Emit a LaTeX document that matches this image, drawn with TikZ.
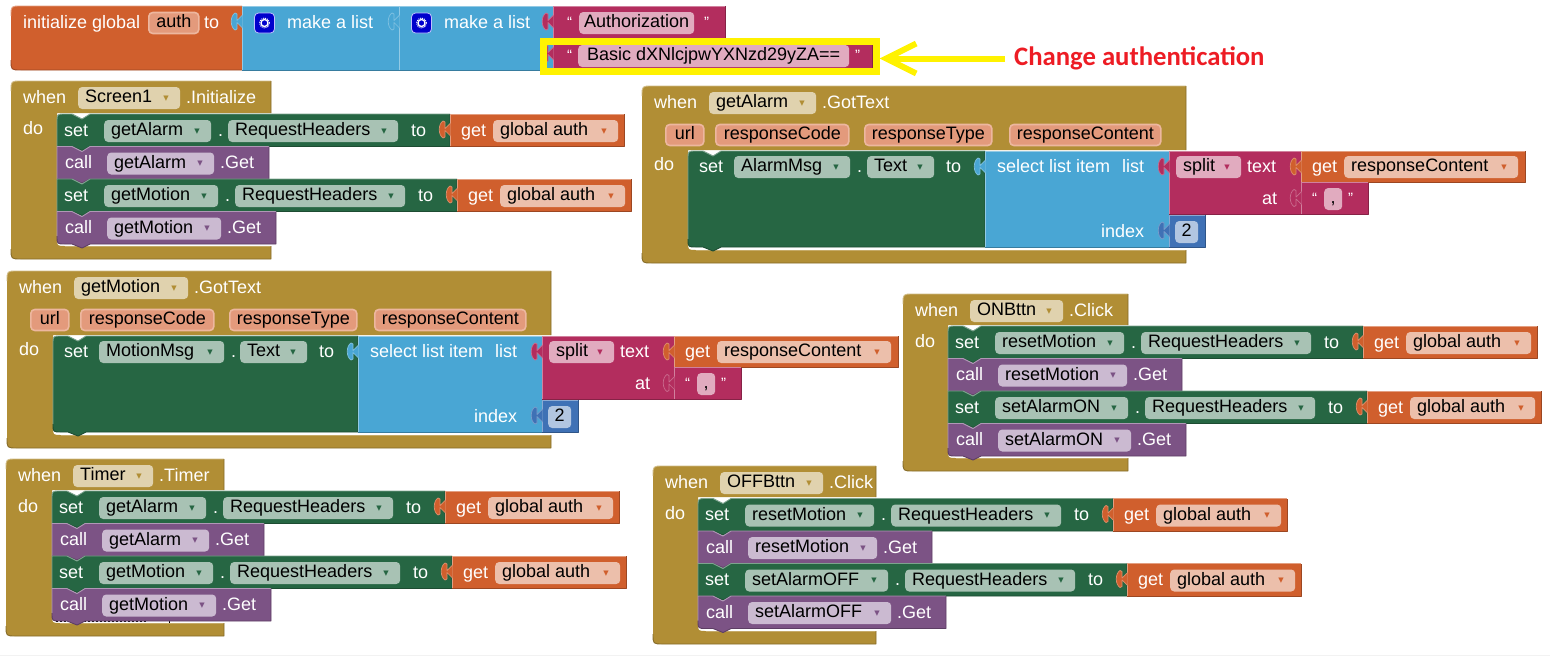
\documentclass[tikz,border=0pt]{standalone}
\usepackage{fontspec}
\setmainfont{Liberation Sans}
\newfontfamily\trifont{DejaVu Sans}
\newfontfamily\capfont{Carlito}
\usepackage{xcolor}
\usepackage{tikz}
\usetikzlibrary{arrows.meta,positioning,calc}

\definecolor{orn}{HTML}{D05F2D}
\definecolor{lst}{HTML}{49A6D4}
\definecolor{pnk}{HTML}{B32D5E}
\definecolor{grn}{HTML}{266643}
\definecolor{pur}{HTML}{7C5385}
\definecolor{ctl}{HTML}{B18E35}
\definecolor{num}{HTML}{3F71B5}
\definecolor{ornc}{HTML}{ECBFAB}
\definecolor{pnkc}{HTML}{E1ABBF}
\definecolor{grnc}{HTML}{A8C2B4}
\definecolor{purc}{HTML}{CBBAD1}
\definecolor{ctlc}{HTML}{E0D2AE}
\definecolor{numc}{HTML}{B2C6E1}
\definecolor{parc}{HTML}{E39A7C}
\definecolor{parl}{HTML}{EDB79F}
\definecolor{capred}{HTML}{ED1C24}

% Text pieces
\newcommand{\lab}[4]{\node[lbl] (#1) at (#2,#3) {#4};}
\newcommand{\ddchip}[7]{\node[chip, fill=#6] (#1) at (#2,#3) {\makebox[\dimexpr#4pt-14pt\relax][l]{#5\hfill\raisebox{2.5pt}{\textcolor{#7}{\trifont\fontsize{7}{7}\selectfont ▼}}\hspace{4.5pt}}};}
\newcommand{\parchip}[4]{\node[parm, minimum width=#3] (#1) at (#2) {#4};}

% Block pieces
\newcommand{\blk}[5]{%
    \fill[#5] (#1,#2) rectangle (#3,#4);
    \draw[#5!60!white, line width=.9] (#1,#4) -- (#1,#2) -- (#3,#2);
    \draw[#5!75!black, line width=.9] (#1,#4) -- (#3,#4) -- (#3,#2);
}
\newcommand{\vtab}[3]{%
    \filldraw[fill=#3, draw=#3!70!white, line width=.7] ({#1+.5},{#2+9}) -- ({#1-5},{#2+14.5}) -- ({#1-5},{#2+8}) -- ({#1-7},{#2+7})
        .. controls ({#1-12},{#2+10}) and ({#1-12},{#2+21}) .. ({#1-7},{#2+24}) -- ({#1-5},{#2+23}) -- ({#1-5},{#2+16.5}) -- ({#1+.5},{#2+22});
}
\newcommand{\stmt}[7]{%
    \fill[#5] (#3,#2) -- ({#1+33},#2) -- ({#1+25},{#2+5}) -- ({#1+15},#2) -- ({#1+#6},#2) .. controls (#1,#2) .. (#1,{#2+#6})
        -- (#1,{#4-#7}) .. controls (#1,#4) .. ({#1+#7},#4) -- ({#1+15},#4) -- ({#1+25},{#4+4}) -- ({#1+33},#4) -- (#3,#4) -- cycle;
    \draw[#5!60!white, line width=.9] (#3,#2) -- ({#1+33},#2) -- ({#1+25},{#2+5}) -- ({#1+15},#2) -- ({#1+#6},#2) .. controls (#1,#2) .. (#1,{#2+#6}) -- (#1,{#4-#7});
    \draw[#5!75!black, line width=.9] (#1,{#4-#7}) .. controls (#1,#4) .. ({#1+#7},#4) -- ({#1+15},#4) -- ({#1+25},{#4+4}) -- ({#1+33},#4) -- (#3,#4) -- (#3,#2);
}
% x, y, right end of head, bottom of head, inner x, top and bottom of the foot
\newcommand{\handler}[7]{%
    \fill[ctl] ({#1+10},#2) -- (#3,#2) -- (#3,#4) -- (#5,#4) -- (#5,{#6-8}) .. controls (#5,#6) .. ({#5+8},#6) -- (#3,#6) -- (#3,#7)
        -- ({#1+10},#7) .. controls (#1,#7) .. (#1,{#7-10}) -- (#1,{#2+10}) .. controls (#1,#2) .. ({#1+10},#2) -- cycle;
    \draw[ctl!60!white, line width=.9] (#3,#2) -- ({#1+10},#2) .. controls (#1,#2) .. (#1,{#2+10});
    \draw[ctl!75!white, line width=.9] (#3,#6) -- ({#5+8},#6);
    \draw[ctl!75!black, line width=.9] (#3,#2) -- (#3,#4) (#3,#6) -- (#3,#7) -- ({#1+10},#7) .. controls (#1,#7) .. (#1,{#7-10});
}
% prefix, x, y, event chip text and width, event name
\newcommand{\whenhead}[6]{%
    \pgfmathsetmacro\hy{#3+16}
    \pgfmathsetmacro\hx{#2+67}
    \pgfmathsetmacro\hz{#2+67+#5+6}
    \lab{#1when}{{#2+12}}{\hy}{when}
    \ddchip{#1ev}{\hx}{\hy}{#5}{#4}{ctlc}{ctl}
    \lab{#1tail}{\hz}{\hy}{#6}
}
% prefix, x, y, top rounding, component, width
\newcommand{\setrow}[6]{%
    \pgfmathsetmacro\sy{#3+16}
    \pgfmathsetmacro\sa{#2+47}
    \pgfmathsetmacro\sb{#2+47+#6+17}
    \pgfmathsetmacro\sg{\sb+170+52}
    \pgfmathsetmacro\se{\sg+174}
    \stmt{#2}{#3}{\sg}{#3+32.5}{grn}{#4}{0}
    \blk{\sg}{#3}{\se}{#3+32.5}{orn}
    \vtab{\sg}{#3}{orn}
    \lab{#1set}{{#2+7}}{\sy}{set}
    \ddchip{#1comp}{\sa}{\sy}{#6}{#5}{grnc}{grn}
    \lab{#1dot}{{\sb-10}}{\sy}{.}
    \ddchip{#1prop}{\sb}{\sy}{170}{RequestHeaders}{grnc}{grn}
    \lab{#1to}{{\sb+170+13}}{\sy}{to}
    \lab{#1get}{{\sg+11}}{\sy}{get}
    \ddchip{#1var}{{\sg+43}}{\sy}{125}{global auth}{ornc}{orn}
}
% prefix, x, y, bottom rounding, component, width
\newcommand{\callrow}[6]{%
    \pgfmathsetmacro\cy{#3+16}
    \pgfmathsetmacro\ca{#2+50}
    \pgfmathsetmacro\cb{#2+50+#6+6}
    \stmt{#2}{#3}{#2+#6+105}{#3+32.5}{pur}{0}{#4}
    \lab{#1call}{{#2+8}}{\cy}{call}
    \ddchip{#1comp}{\ca}{\cy}{#6}{#5}{purc}{pur}
    \lab{#1dot}{\cb}{\cy}{.Get}
}
% prefix, x, y, first component and width, second component and width
\newcommand{\stack}[7]{%
    \setrow{#1a}{#2}{#3}{8}{#4}{#5}
    \callrow{#1b}{#2}{#3+32.5}{0}{#4}{#5}
    \setrow{#1c}{#2}{#3+65}{0}{#6}{#7}
    \callrow{#1d}{#2}{#3+97.5}{8}{#6}{#7}
}
% prefix, x, y, component, width, label, width, shift
\newcommand{\gottext}[8]{%
    \pgfmathsetmacro\gy{#3+65}
    \pgfmathsetmacro\gr{\gy+15}
    \pgfmathsetmacro\gs{\gy+47}
    \pgfmathsetmacro\gt{\gy+80}
    \pgfmathsetmacro\gp{#3+48}
    \pgfmathsetmacro\gb{#2+343+#8}
    \pgfmathsetmacro\gc{#2+527+#8}
    \pgfmathsetmacro\gd{#2+659+#8}
    \handler{#2}{#3}{#2+544}{#3+64}{#2+46}{#3+164}{#3+177}
    \whenhead{#1}{#2}{#3}{#4}{#5}{.GotText}
    \parchip{#1url}{{#2+23},\gp}{38}{url}
    \parchip{#1code}{{#2+73},\gp}{133}{responseCode}
    \parchip{#1type}{{#2+222},\gp}{127}{responseType}
    \parchip{#1cont}{{#2+367},\gp}{151}{responseContent}
    \lab{#1do}{{#2+12}}{\gr-2}{do}
    \stmt{#2+46}{\gy}{\gb}{\gy+96}{grn}{8}{8}
    \blk{\gb}{\gy}{\gc}{\gy+96}{lst}
    \vtab{\gb}{\gy}{lst}
    \blk{\gc}{\gy}{\gd}{\gy+63}{pnk}
    \vtab{\gc}{\gy}{pnk}
    \blk{\gc}{\gy+64}{\gc+36}{\gy+96}{num}
    \vtab{\gc}{\gy+64}{num}
    \blk{\gd}{\gy}{\gd+224}{\gy+31.5}{orn}
    \vtab{\gd}{\gy}{orn}
    \blk{\gd}{\gy+31.5}{\gd+67}{\gy+63}{pnk}
    \vtab{\gd}{\gy+31.5}{pnk}
    \lab{#1set}{{#2+57}}{\gr}{set}
    \ddchip{#1comp}{{#2+92}}{\gr}{#7}{#6}{grnc}{grn}
    \lab{#1dot}{{#2+92+#7+7}}{\gr}{.}
    \ddchip{#1prop}{{#2+225+#8}}{\gr}{67}{Text}{grnc}{grn}
    \lab{#1to}{{#2+304+#8}}{\gr}{to}
    \lab{#1sel}{{\gb+12}}{\gr}{select list item}
    \lab{#1list}{{\gb+137}}{\gr}{list}
    \ddchip{#1split}{{\gc+7}}{\gr}{65}{split}{pnkc}{pnk}
    \lab{#1text}{{\gc+78}}{\gr}{text}
    \lab{#1get}{{\gd+11}}{\gr}{get}
    \ddchip{#1var}{{\gd+43}}{\gr}{174}{responseContent}{ornc}{orn}
    \lab{#1at}{{\gc+93}}{\gs}{at}
    \node[qmark] (#1ql) at ({\gd+11},\gs) {“};
    \node[chipc, fill=pnkc, minimum width=18] (#1comma) at ({\gd+23},\gs) {,};
    \node[qmark] (#1qr) at ({\gd+47},\gs) {”};
    \lab{#1index}{{\gb+116}}{\gt}{index}
    \node[chipc, fill=numc, minimum width=23] (#1two) at ({\gc+6},\gt) {2};
}

\begin{document}
\begin{tikzpicture}[x=1pt, y=-1pt, line join=round]
    \tikzstyle{lbl} = [anchor=west, yshift=-1.5pt, inner sep=0pt, text=white, text height=13pt, text depth=4pt, font=\fontsize{18}{20}\selectfont]
    \tikzstyle{chip} = [anchor=west, yshift=-1pt, inner xsep=7pt, inner ysep=2.5pt, text=black, text height=13pt, text depth=4pt, rounded corners=4pt, font=\fontsize{18}{20}\selectfont]
    \tikzstyle{chipc} = [chip, inner xsep=0pt, align=center]
    \tikzstyle{parm} = [chipc, fill=parc, draw=parl, line width=1.6pt, inner ysep=2pt]
    \tikzstyle{qmark} = [anchor=west, inner sep=0pt, text=white, font=\fontsize{15}{15}\selectfont]
    \tikzstyle{gearbox} = [minimum size=20pt, inner sep=0pt, fill=blue!80!black, draw=white!75!blue, line width=.8pt, rounded corners=4pt]
    \useasboundingbox (0,0) rectangle (1550,656);
    \fill[black!5] (0,655) rectangle (1550,656);

    % Global variable
    \fill[orn] (21,6) -- (242,6) -- (242,70) -- (21,70) .. controls (11,70) .. (11,60) -- (11,16) .. controls (11,6) .. (21,6) -- cycle;
    \draw[orn!60!white, line width=.9] (242,6) -- (21,6) .. controls (11,6) .. (11,16);
    \draw[orn!75!black, line width=.9] (11,60) .. controls (11,70) .. (21,70) -- (242,70);
    \blk{242}{6}{399}{70.5}{lst}
    \vtab{242}{6}{lst}
    \blk{399}{6}{553}{70.5}{lst}
    \vtab{399}{6}{lst}
    \blk{553}{6}{725}{38}{pnk}
    \vtab{553}{6}{pnk}
    \blk{553}{38}{872}{70}{pnk}
    \vtab{553}{38}{pnk}
    \lab{initlab}{23}{22}{initialize global}
    \parchip{authvar}{148,22}{50}{auth}
    \lab{inito}{204}{22}{to}
    \node[gearbox] (gearA) at (264.5,23) {};
    \node[circle, draw=white, line width=1.3pt, inner sep=0pt, minimum size=7pt] (gearAi) at (gearA) {};
    \node[circle, draw=white, densely dotted, line width=1pt, inner sep=0pt, minimum size=10pt] (gearAo) at (gearA) {};
    \lab{listA}{287}{22}{make a list}
    \node[gearbox] (gearB) at (421.5,23) {};
    \node[circle, draw=white, line width=1.3pt, inner sep=0pt, minimum size=7pt] (gearBi) at (gearB) {};
    \node[circle, draw=white, densely dotted, line width=1pt, inner sep=0pt, minimum size=10pt] (gearBo) at (gearB) {};
    \lab{listB}{444}{22}{make a list}
    \node[qmark] (qa) at (567,22) {“};
    \node[chipc, fill=pnkc, minimum width=115] (authname) at (579,22) {Authorization};
    \node[qmark] (qb) at (704,22) {”};
    \node[qmark] (qc) at (567,55) {“};
    \node[chipc, fill=pnkc, minimum width=271, xshift=-1pt] (authval) at (579,55) {Basic dXNlcjpwYXNzd29yZA==};
    \node[qmark] (qd) at (855,55) {”};

    % Highlight
    \node[draw=yellow, line width=7pt, miter limit=10, line join=miter, minimum width=333pt, minimum height=30pt, inner sep=0pt] (authbox) at (709.5,56) {};
    \node[anchor=west, inner xsep=9pt, inner ysep=0pt, yshift=-1.5pt, text=capred, font=\capfont\bfseries\fontsize{26.7}{28}\selectfont] (change) at (1005,57) {Change authentication};
    \draw[yellow, line width=6pt, -{Straight Barb[length=30pt, width=30pt, line width=6pt]}] (change.west) -- (authbox.east |- change.west);

    % Screen1
    \handler{11}{81}{271}{113}{57}{246}{259}
    \whenhead{scr}{11}{81}{Screen1}{102}{.Initialize}
    \lab{scrdo}{23}{128}{do}
    \stack{scr}{57}{114}{getAlarm}{107}{getMotion}{114}

    % GotText events
    \gottext{ala}{642}{86}{getAlarm}{107}{AlarmMsg}{116}{0}
    \gottext{mot}{7}{271}{getMotion}{114}{MotionMsg}{125}{8}

    % Timer
    \handler{6}{459}{224}{490}{52}{623}{636}
    \whenhead{tim}{6}{459}{Timer}{80}{.Timer}
    \lab{timdo}{18}{506}{do}
    \draw[black, line width=1.5pt, dash pattern=on 2pt off 2pt] (56,621.5) -- (147,621.5);
    \draw[black, line width=.8pt] (169,619) -- (169,623);
    \stack{tim}{52}{491}{getAlarm}{107}{getMotion}{114}

    % ONBttn
    \handler{903}{294}{1128}{325}{948}{458}{471}
    \whenhead{onb}{903}{294}{ONBttn}{93}{.Click}
    \lab{onbdo}{915}{341}{do}
    \stack{onb}{948}{326}{resetMotion}{129}{setAlarmON}{133}

    % OFFBttn
    \handler{653}{466}{876}{497}{698}{631}{644}
    \whenhead{off}{653}{466}{OFFBttn}{103}{.Click}
    \lab{offdo}{665}{513}{do}
    \stack{off}{698}{498.5}{resetMotion}{129}{setAlarmOFF}{143}
\end{tikzpicture}
\end{document}
